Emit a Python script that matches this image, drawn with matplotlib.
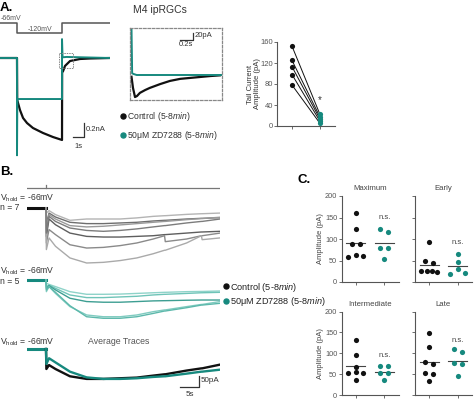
import numpy as np
import matplotlib
matplotlib.use("Agg")
import matplotlib.pyplot as plt
from matplotlib.lines import Line2D

plt.rcParams['font.family'] = ['Liberation Sans', 'DejaVu Sans']
plt.rcParams['mathtext.fontset'] = 'custom'
plt.rcParams['mathtext.rm'] = 'Liberation Sans'
plt.rcParams['mathtext.it'] = 'Liberation Sans:italic'

# ---------------- data ----------------
BLACK = "#111111"
TEAL = "#16897e"

# Panel A: voltage protocol (s, mV)
stepA_t = [-1.55, 0.0, 0.0, 4.09, 4.09, 8.45]
stepA_mv = [-66, -66, -120, -120, -66, -66]
# Panel A: current traces (s, pA)
ctrlA_t = [-1.55, 0.0, 0.02, 0.27, 0.55, 0.91, 1.45, 2.36, 3.27, 4.09, 4.10, 4.18, 4.36, 4.82, 5.73, 6.6, 8.45]
ctrlA_pA = [0, 0, -600, -743, -857, -929, -1000, -1071, -1129, -1171, -200, -190, -114, -43, -14, -7, 0]
zdA_t = [-1.55, 0.0, 0.0, 0.03, 4.09, 4.09, 4.14, 4.5, 8.45]
zdA_pA = [0, 0, -1390, -586, -586, 270, 10, 15, 0]
# Panel A inset (tail currents)
insC_t = [0.0, 0.023, 0.054, 0.085, 0.13, 0.21, 0.28, 0.44, 0.59, 0.75, 0.98, 1.21, 1.36]
insC_pA = [-5, -37, -63, -60, -51, -43, -37, -26, -17, -11, -7, -3, -1]
insZ_t = [0.0, 0.01, 0.03, 0.08, 1.38]
insZ_pA = [135, 5, 3, 0, 0]
# Panel A tail current amplitudes
tail_ctrl = [152, 125, 113, 98, 78]
tail_zd = [22, 17, 13, 9, 5]

# Panel B traces (s, pA)
tB = [0, 0.1, 0.8, 2.5, 6.3, 10.7, 15.1, 19.5, 23.9, 28.2, 31.2, 31.4, 37.0, 40.9, 41.1, 45.8]
ctrl_a = [0, -23, -12, -30, -56, -50, -50, -50, -45, -38, -35, -35, -29, -26, -26, -23]
ctrl_b = [0, -68, -23, -41, -65, -71, -71, -68, -65, -59, -56, -56, -50, -47, -47, -44]
ctrl_c = [0, -98, -30, -50, -80, -86, -83, -77, -71, -65, -61, -61, -53, -48, -48, -42]
ctrl_d = [0, -129, -50, -76, -114, -129, -132, -132, -129, -126, -121, -121, -114, -109, -109, -106]
ctrl_e = [0, -159, -98, -121, -167, -182, -179, -171, -159, -141, -126, -153, -141, -126, -126, -114]
ctrl_f = [0, -189, -136, -174, -227, -250, -247, -239, -227, -208, -192, -192, -159, -126, -144, -136]
ctrl_g = [0, -114, -38, -61, -91, -102, -106, -102, -95, -86, -80, -80, -68, -61, -61, -50]
zd_a = [0, -15, -20, -30, -53, -65, -65, -64, -61, -58, -56, -56, -53, -52, -52, -50]
zd_b = [0, -30, -23, -38, -68, -80, -80, -77, -74, -68, -65, -65, -61, -58, -58, -56]
zd_c = [0, -38, -26, -45, -83, -98, -101, -101, -98, -95, -94, -94, -92, -91, -91, -91]
zd_d = [0, -53, -30, -61, -121, -159, -167, -167, -159, -144, -136, -136, -121, -111, -111, -98]
zd_e = [0, -45, -30, -56, -117, -167, -174, -174, -167, -152, -141, -141, -126, -114, -114, -106]
avg_ctrl = [0, -91, -73, -91, -124, -136, -136, -133, -130, -121, -115, -115, -98, -88, -88, -71]
avg_zd = [0, -68, -42, -61, -103, -129, -136, -136, -133, -127, -124, -124, -112, -103, -103, -94]

# Panel C amplitudes (pA)
c_titles = ["Maximum", "Early", "Intermediate", "Late"]
max_ctrl = [160, 124, 88, 88, 63, 60, 57]
max_zd = [124, 117, 80, 80, 53]
early_ctrl = [92, 49, 44, 25, 25, 25, 24]
early_zd = [66, 47, 30, 21, 19]
inter_ctrl = [132, 96, 68, 55, 52, 52, 37]
inter_zd = [70, 70, 52, 52, 36]
late_ctrl = [148, 116, 78, 74, 52, 50, 34]
late_zd = [110, 104, 76, 74, 46]
ns_pos = [150, 93, 94, 130]

# ---------------- figure ----------------
W, H = 474, 399
fig = plt.figure(figsize=(W / 100, H / 100), dpi=100)


def axpx(x0, y0, x1, y1):
    return fig.add_axes([x0 / W, 1 - y1 / H, (x1 - x0) / W, (y1 - y0) / H])


def T(x, y, s, **kw):
    kw.setdefault('va', 'center')
    kw.setdefault('ha', 'left')
    return fig.text(x / W, 1 - y / H, s, **kw)


SCALE_C = "#333333"

# panel letters
T(0, 8, "A.", fontsize=9.5, fontweight='bold')
T(0, 172, "B.", fontsize=9.5, fontweight='bold')
T(297, 180, "C.", fontsize=9.5, fontweight='bold')

# ---- Panel A voltage protocol
axv = axpx(0, 15, 110, 40)
axv.set_axis_off()
axv.set_xlim(-1.545, 8.45)
axv.set_ylim(-157.8, -22.8)
axv.plot(stepA_t, stepA_mv, color="#555555", lw=1.1)
T(0.5, 19, "-66mV", fontsize=5, color="#555555")
T(40, 29.5, "-120mV", fontsize=5, color="#555555", ha='center')

# ---- Panel A main currents
axa = axpx(0, 15, 110, 160)
axa.set_axis_off()
k_a = 200 / 14.0
axa.set_xlim(-1.545, 8.45)
axa.set_ylim(-(160 - 58) * k_a, (58 - 15) * k_a)
axa.plot(ctrlA_t, ctrlA_pA, color=BLACK, lw=1.6, solid_joinstyle='round')
axa.plot(zdA_t, zdA_pA, color=TEAL, lw=1.4)
axa.plot([3.82, 5.09, 5.09, 3.82, 3.82], [71, 71, -143, -143, 71], color="#888888", lw=0.7, ls=(0, (1.5, 1)))
sx = (84 - 17) / 11.0
sy = -(137 - 58) * k_a
axa.plot([sx - 1, sx, sx], [sy, sy, sy + 200], color=SCALE_C, lw=0.9)
T(86, 129.5, "0.2nA", fontsize=5.5, color=SCALE_C)
T(78.5, 146, "1s", fontsize=5.5, color=SCALE_C, ha='center')

# ---- Panel A inset
T(160, 10, "M4 ipRGCs", fontsize=7.5, color="#333333", ha='center')
axi = axpx(130, 28, 222, 100)
axi.set_xticks([])
axi.set_yticks([])
for sp in axi.spines.values():
    sp.set_linestyle((0, (2, 1.5)))
    sp.set_color("#888888")
    sp.set_linewidth(0.9)
k_i = 20 / 7.0
axi.set_xlim(-0.023, 1.392)
axi.set_ylim(-25 * k_i, 47 * k_i)
axi.plot(insC_t, insC_pA, color=BLACK, lw=1.6)
axi.plot(insZ_t, insZ_pA, color=TEAL, lw=1.4)
bx = (193 - 131.5) / 65.0
by = (75 - 40) * k_i
axi.plot([bx - 0.2, bx, bx], [by, by, by + 20], color=SCALE_C, lw=0.9)
T(195, 35.5, "20pA", fontsize=5.5, color=SCALE_C)
T(186, 45, "0.2s", fontsize=5.5, color=SCALE_C, ha='center')

# legend A
hA = [Line2D([], [], marker='o', ls='none', color=BLACK, markersize=3.6),
      Line2D([], [], marker='o', ls='none', color=TEAL, markersize=3.6)]
labs = ["Control $\\mathit{(5}$-$\\mathit{8min)}$", "50μM ZD7288 $\\mathit{(5}$-$\\mathit{8min)}$"]
fig.legend(hA, labs,
           loc='upper left', bbox_to_anchor=(121 / W, 1 - 110 / H), frameon=False,
           fontsize=6.2, handlelength=0.5, handletextpad=0.15, labelspacing=0.75,
           borderpad=0, borderaxespad=0, labelcolor="#333333")

# ---- Panel A tail current
axt = axpx(277, 42, 335, 126)
axt.set_xlim(0.464, 2.536)
axt.set_ylim(0, 160)
for s in ['top', 'right']:
    axt.spines[s].set_visible(False)
for s in ['left', 'bottom']:
    axt.spines[s].set_color("#555555")
    axt.spines[s].set_linewidth(0.8)
axt.set_yticks([0, 40, 80, 120, 160])
axt.set_xticks([1, 2])
axt.set_xticklabels([])
axt.tick_params(length=2, width=0.6, colors="#555555", labelsize=5.5, pad=1)
for c, z in zip(tail_ctrl, tail_zd):
    axt.plot([1, 2], [c, z], color=BLACK, lw=0.7, zorder=2)
axt.scatter([1] * len(tail_ctrl), tail_ctrl, s=14, color=BLACK, zorder=3, clip_on=False, linewidths=0)
axt.scatter([2] * len(tail_zd), tail_zd, s=14, color=TEAL, zorder=3, clip_on=False, linewidths=0)
axt.text(2, 50, "*", ha='center', va='center', fontsize=7, color="#333333")
T(250, 84, "Tail Current", fontsize=5.5, color="#333333", rotation=90, ha='center')
T(257.5, 84, "Amplitude (pA)", fontsize=5.5, color="#333333", rotation=90, ha='center')

# ---- Panel B
kB = 50 / 11.0
axb = axpx(27, 180, 220, 399)
axb.set_axis_off()
axb.set_xlim(-5, 45.8)
axb.set_ylim(-399 * kB, -180 * kB)
base = [208, 280, 349]
axb.plot([-5, 45.8], [-188 * kB, -188 * kB], color="#777777", lw=0.9)
axb.plot([0, 0], [-188 * kB, -184.5 * kB], color="#777777", lw=0.9)
off = -base[0] * kB
axb.plot([-5, 0], [off, off], color=BLACK, lw=2.2)
gcols = ["#b4b4b4", "#6e6e6e", "#9a9a9a", "#5e5e5e", "#8a8a8a", "#aaaaaa", "#7c7c7c"]
for tr, col in zip([ctrl_a, ctrl_b, ctrl_c, ctrl_d, ctrl_e, ctrl_f, ctrl_g], gcols):
    axb.plot(tB, off + np.array(tr), color=col, lw=1.0)
off = -base[1] * kB
axb.plot([-5, 0], [off, off], color=TEAL, lw=2.2)
tcols = ["#8fd3c9", "#6fc4b8", "#3d9e92", "#80cbc0", "#5cb8ab"]
for tr, col in zip([zd_a, zd_b, zd_c, zd_d, zd_e], tcols):
    axb.plot(tB, off + np.array(tr), color=col, lw=1.0)
off = -base[2] * kB
axb.plot([-5, 0], [off, off], color=TEAL, lw=2.2)
axb.plot(tB, off + np.array(avg_ctrl), color=BLACK, lw=1.7)
axb.plot(tB, off + np.array(avg_zd), color=TEAL, lw=1.7)
sbx = (199 - 46) / 3.8
axb.plot([sbx - 5, sbx, sbx], [-387 * kB, -387 * kB, -387 * kB + 50], color=SCALE_C, lw=0.9)
T(201, 381, "50pA", fontsize=5.8, color=SCALE_C)
T(190, 394, "5s", fontsize=5.8, color=SCALE_C, ha='center')

vh = "V$_{\\mathrm{hold}}$ = -66mV"
T(0.5, 198, vh, fontsize=6.2, color="#333333")
T(0.5, 208, "n = 7", fontsize=6.2, color="#333333")
T(0.5, 271, vh, fontsize=6.2, color="#333333")
T(0.5, 281, "n = 5", fontsize=6.2, color="#333333")
T(0.5, 342, vh, fontsize=6.2, color="#333333")
T(88, 342, "Average Traces", fontsize=6.3, color="#555555")

fig.legend(hA, labs,
           loc='upper left', bbox_to_anchor=(224 / W, 1 - 280.5 / H), frameon=False,
           fontsize=6.6, handlelength=0.5, handletextpad=0.15, labelspacing=0.18,
           borderpad=0, borderaxespad=0, labelcolor="#222222")


# ---- Panel C
def swarm_x(vals, center, thr=11.0, step=0.27):
    xs = [center] * len(vals)
    clusters = []
    cur = [0]
    for i in range(1, len(vals)):
        if abs(vals[i] - vals[cur[-1]]) < thr:
            cur.append(i)
        else:
            clusters.append(cur)
            cur = [i]
    clusters.append(cur)
    for cl in clusters:
        n = len(cl)
        st = step if n < 4 else 0.55 / (n - 1)
        if n % 2 == 1:
            offs = [0]
            for j in range(1, n // 2 + 1):
                offs += [j, -j]
        else:
            offs = []
            for j in range(n // 2):
                offs += [-(j + 0.5), j + 0.5]
        for idx, o in zip(cl, offs):
            xs[idx] = center + o * st
    return xs


c_ctrl = [max_ctrl, early_ctrl, inter_ctrl, late_ctrl]
c_zd = [max_zd, early_zd, inter_zd, late_zd]
rects = [(341.5, 196, 398.5, 282), (415, 196, 472, 282),
         (341.5, 311.5, 398.5, 395), (415, 311.5, 472, 395)]
for i, (r, ttl) in enumerate(zip(rects, c_titles)):
    ax = axpx(*r)
    ax.set_xlim(0.5, 2.5)
    ax.set_ylim(0, 200)
    for s in ['top', 'right']:
        ax.spines[s].set_visible(False)
    for s in ['left', 'bottom']:
        ax.spines[s].set_color("#555555")
        ax.spines[s].set_linewidth(0.8)
    ax.set_yticks([0, 50, 100, 150, 200])
    ax.set_xticks([1, 2])
    ax.set_xticklabels([])
    ax.tick_params(length=2, width=0.6, colors="#555555", labelsize=5.3, pad=1)
    if i % 2 == 1:
        ax.set_yticklabels([])
    else:
        ax.set_ylabel("Amplitude (pA)", fontsize=5.5, color="#444444", labelpad=1)
    ax.set_title(ttl, fontsize=5.6, color="#444444", pad=4)
    for cx, vals, col in [(1, c_ctrl[i], BLACK), (2, c_zd[i], TEAL)]:
        xs = swarm_x(vals, cx)
        ax.scatter(xs, vals, s=14, color=col, linewidths=0, zorder=3, clip_on=False)
        m = np.mean(vals)
        ax.plot([cx - 0.33, cx + 0.33], [m, m], color="#444444", lw=0.8, zorder=2)
    ax.text(2, ns_pos[i], "n.s.", ha='center', va='center', fontsize=5.5, color="#444444")

fig.savefig("out.png", dpi=100)
